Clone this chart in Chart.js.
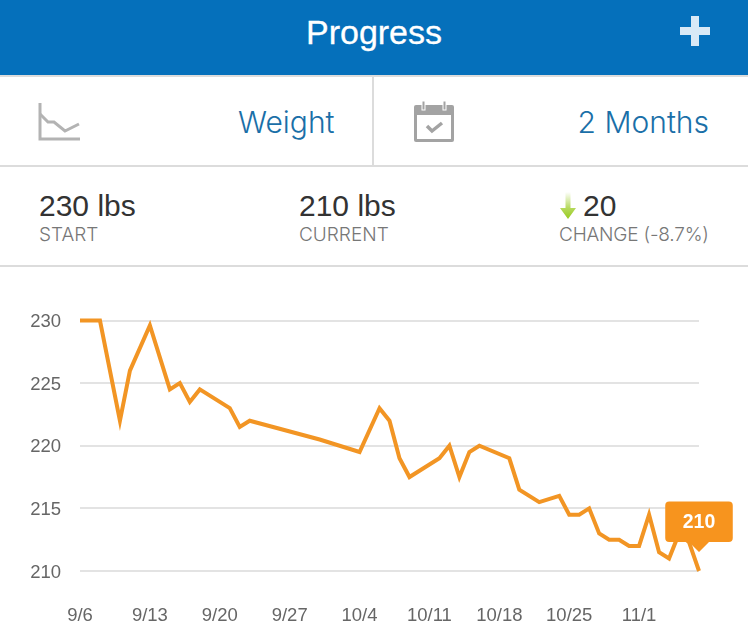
<!DOCTYPE html>
<html>
<head>
<meta charset="utf-8">
<title>Progress</title>
<script src="https://cdn.jsdelivr.net/npm/chart.js@4"></script>
<style>
  html, body { margin: 0; padding: 0; background: #fff; }
  body { width: 748px; height: 644px; position: relative; overflow: hidden;
         font-family: "Liberation Sans", Arial, sans-serif; }
  .abs { position: absolute; white-space: nowrap; line-height: 1; }
  .bar { position: absolute; left: 0; top: 0; width: 748px; height: 75px; background: #0570bb; }
  .rule { position: absolute; background: #dcdcdc; }
  .title { left: 0; width: 748px; top: 15px; text-align: center; color: #fff; font-size: 34px; -webkit-text-stroke: 0.3px #fff; }
  .pick { color: #1a6fa8; font-family: Inter, "Liberation Sans", sans-serif; font-weight: 300; font-size: 30px; top: 107px; }
  .num { color: #333; font-size: 30px; top: 191px; font-family: "Liberation Sans", sans-serif; }
  .cap { color: #777; font-size: 19px; top: 225px; font-family: Inter, "Liberation Sans", sans-serif; font-weight: 300; }
  #chartBox { position: absolute; left: 0; top: 267px; width: 748px; height: 377px; }
</style>
</head>
<body>
  <div class="bar"></div>
  <div class="abs title">Progress</div>
  <svg class="abs" style="left:680px;top:16px" width="30" height="30" viewBox="0 0 30 30">
    <path d="M11 0h8v11h11v8H19v11h-8V19H0v-8h11z" fill="#d9e9f6"/>
  </svg>

  <div class="rule" style="left:0;top:75px;width:748px;height:2px"></div>
  <div class="rule" style="left:372px;top:76px;width:2px;height:90px"></div>
  <div class="rule" style="left:0;top:165px;width:748px;height:2px"></div>
  <div class="rule" style="left:0;top:265px;width:748px;height:2px"></div>

  <svg class="abs" style="left:38px;top:102px" width="42" height="40" viewBox="0 0 42 40">
    <path d="M2 1v36h40" fill="none" stroke="#b3b3b3" stroke-width="3"/>
    <path d="M2 12l8 8h6l11 9 14-7" fill="none" stroke="#b3b3b3" stroke-width="3"/>
  </svg>
  <div class="abs pick" style="left:238px">Weight</div>

  <svg class="abs" style="left:414px;top:100px" width="40" height="42" viewBox="0 0 40 42">
    <rect x="0" y="5" width="40" height="37" rx="2" fill="#a3a3a3"/>
    <rect x="3" y="15" width="34" height="24" fill="#fff"/>
    <rect x="8" y="1" width="3" height="9" fill="#a3a3a3" stroke="#fff" stroke-width="1"/>
    <rect x="29" y="1" width="3" height="9" fill="#a3a3a3" stroke="#fff" stroke-width="1"/>
    <path d="M13 26l5 5 10-8" fill="none" stroke="#a3a3a3" stroke-width="3.5"/>
  </svg>
  <div class="abs pick" style="right:39px">2 Months</div>

  <div class="abs num" style="left:39px">230 lbs</div>
  <div class="abs cap" style="left:39px">START</div>
  <div class="abs num" style="left:299px">210 lbs</div>
  <div class="abs cap" style="left:299px">CURRENT</div>
  <svg class="abs" style="left:559px;top:192px" width="18" height="28" viewBox="0 0 18 28">
    <defs>
      <linearGradient id="down" x1="0" y1="0" x2="0" y2="1">
        <stop offset="0" stop-color="#ffffff"/>
        <stop offset="0.6" stop-color="#b5d95c"/>
        <stop offset="1" stop-color="#98cb1f"/>
      </linearGradient>
    </defs>
    <path d="M6.5 0h5v16H17l-8 11-8-11h5.500z" fill="url(#down)"/>
  </svg>
  <div class="abs num" style="left:583px">20</div>
  <div class="abs cap" style="left:559px;letter-spacing:-0.2px">CHANGE (-8.7%)</div>

  <div id="chartBox"><canvas id="weightChart" width="748" height="377"></canvas></div>

<script>
// Days since the first weigh-in, and the weight logged on each of those days.
const dayOffsets = [0, 2, 4, 5, 7, 9, 10, 11, 12, 15, 16, 17, 24, 28, 30, 31, 32, 33, 36, 37, 38, 39, 40,
                    43, 44, 46, 48, 49, 50, 51, 52, 53, 54, 55, 56, 57, 58, 59, 60, 61, 62];
const weights = [230, 230, 222, 226, 229.6, 224.5, 225, 223.5, 224.5, 223, 221.5, 222, 220.5, 219.5, 223, 222, 219, 217.5, 219, 220, 217.5, 219.5, 220,
                 219, 216.5, 215.5, 216, 214.5, 214.5, 215, 213, 212.5, 212.5, 212, 212, 214.5, 211.5, 211, 213, 212.3, 210];
const weekLabels = ["9/6", "9/13", "9/20", "9/27", "10/4", "10/11", "10/18", "10/25", "11/1"];

const series = dayOffsets.map((day, i) => ({ x: day, y: weights[i] }));
const labelFont = { family: '"Liberation Sans", Arial, sans-serif', size: 18.5 };

const chart = new Chart(document.getElementById("weightChart"), {
  type: "line",
  data: {
    datasets: [{
      data: series,
      borderColor: "#f29524",
      borderWidth: 4,
      pointRadius: 0,
      tension: 0,
      borderJoinStyle: "miter",
      clip: false
    }]
  },
  options: {
    responsive: false,
    animation: false,
    events: [],
    layout: { padding: { top: 53.5, right: 49, left: 0, bottom: 0 } },
    scales: {
      x: {
        type: "linear",
        min: 0,
        max: 62,
        afterFit(scale) { scale.height = 73; },
        grid: { display: false },
        border: { display: false },
        ticks: {
          stepSize: 7,
          includeBounds: false,
          autoSkip: false,
          maxRotation: 0,
          padding: 26,
          color: "#666",
          font: labelFont,
          callback: (value, index) => weekLabels[index]
        }
      },
      y: {
        min: 210,
        max: 230,
        afterFit(scale) { scale.width = 80; },
        grid: { color: "#e3e3e3", lineWidth: 2, drawTicks: false },
        border: { display: false },
        ticks: { stepSize: 5, padding: 19, labelOffset: 1.5, color: "#666", font: labelFont }
      }
    },
    plugins: {
      legend: { display: false },
      tooltip: {
        enabled: true,
        xAlign: "center",
        yAlign: "bottom",
        backgroundColor: "#f7941e",
        bodyColor: "#fff",
        bodyFont: { family: '"Liberation Sans", Arial, sans-serif', size: 19.5, weight: "bold" },
        displayColors: false,
        padding: { top: 9, bottom: 8, left: 17.5, right: 17.5 },
        cornerRadius: 4,
        caretSize: 10,
        caretPadding: 19,
        callbacks: {
          title: () => "",
          label: item => String(item.parsed.y)
        }
      }
    }
  }
});

// The latest weigh-in keeps its value callout open.
const last = weights.length - 1;
chart.tooltip.setActiveElements([{ datasetIndex: 0, index: last }], { x: 0, y: 0 });
chart.update();
</script>
</body>
</html>
